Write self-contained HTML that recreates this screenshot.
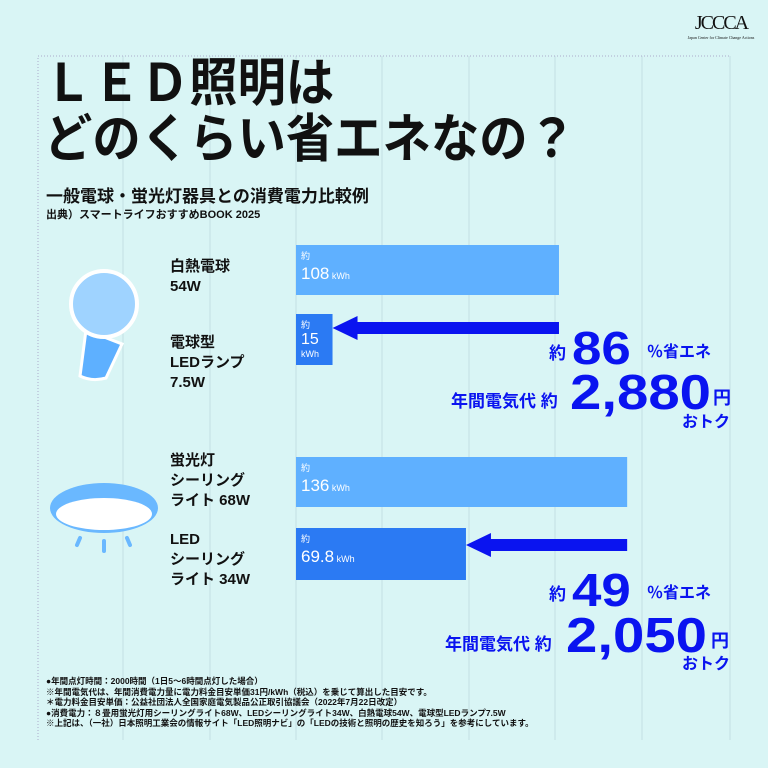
<!DOCTYPE html>
<html><head><meta charset="utf-8">
<style>
body{margin:0;width:768px;height:768px;background:#d9f5f5;font-family:"Liberation Sans","Noto Sans CJK JP",sans-serif;overflow:hidden;position:relative}
.a{position:absolute;white-space:nowrap}
.t{font-weight:bold;color:#111}
.b{color:#0a14f0;font-weight:bold;line-height:1}
.n{transform:scaleX(1.15);transform-origin:left top}
</style></head><body>
<svg class="a" style="left:0;top:0" width="768" height="768">
<g id="grid"></g>
<g id="icons">
<path d="M86 330 L122 344 L106 378 Q92 382 80 376 Z" fill="#5eb0ff" stroke="#fff" stroke-width="3"/>
<circle cx="104" cy="304" r="33" fill="#9fd3ff" stroke="#fff" stroke-width="4"/>
<ellipse cx="104" cy="508" rx="54" ry="25" fill="#6ab8ff"/>
<ellipse cx="104" cy="514" rx="48" ry="16" fill="#fff"/>
<g stroke="#6ab8ff" stroke-width="4" stroke-linecap="round"><line x1="80" y1="538" x2="77" y2="545"/><line x1="104" y1="541" x2="104" y2="551"/><line x1="127" y1="538" x2="130" y2="545"/></g>
</g>
<g id="bars"></g>
</svg>
<div class="a" style="right:12px;top:12px;width:70px;text-align:center;font-size:20px;color:#111;font-family:'Liberation Serif',serif;letter-spacing:-2px">JCCCA<div style="font-size:4px;letter-spacing:0">Japan Center for Climate Change Actions</div></div>
<div class="a t" style="left:44px;top:56px;font-size:52px;line-height:56px;transform:scaleX(0.93);transform-origin:left top">ＬＥＤ照明は<br>どのくらい省エネなの？</div>
<div class="a t" style="left:46px;top:182px;font-size:17px">一般電球・蛍光灯器具との消費電力比較例</div>
<div class="a t" style="left:46px;top:206px;font-size:11px">出典）スマートライフおすすめBOOK 2025</div>
<div class="a t" style="left:170px;top:257px;font-size:15px;line-height:20px">白熱電球<br>54W</div>
<div class="a t" style="left:170px;top:333px;font-size:15px;line-height:20px">電球型<br>LEDランプ<br>7.5W</div>
<div class="a t" style="left:170px;top:451px;font-size:15px;line-height:20px">蛍光灯<br>シーリング<br>ライト 68W</div>
<div class="a t" style="left:170px;top:530px;font-size:15px;line-height:20px">LED<br>シーリング<br>ライト 34W</div>
<div id="labels"></div>

<div class="a b" style="left:549px;top:345px;font-size:17px">約</div>
<div class="a b n" style="left:572px;top:325px;font-size:46px">86</div>
<div class="a b" style="left:647px;top:345px;font-size:16px">％省エネ</div>
<div class="a b" style="left:451px;top:393px;font-size:17px">年間電気代 約</div>
<div class="a b n" style="left:570px;top:369px;font-size:49px">2,880</div>
<div class="a b" style="left:713px;top:389px;font-size:18px">円</div>
<div class="a b" style="left:682px;top:415px;font-size:16px">おトク</div>

<div class="a b" style="left:549px;top:586px;font-size:17px">約</div>
<div class="a b n" style="left:572px;top:567px;font-size:46px">49</div>
<div class="a b" style="left:647px;top:586px;font-size:16px">％省エネ</div>
<div class="a b" style="left:445px;top:636px;font-size:17px">年間電気代 約</div>
<div class="a b n" style="left:566px;top:612px;font-size:49px">2,050</div>
<div class="a b" style="left:711px;top:632px;font-size:18px">円</div>
<div class="a b" style="left:682px;top:657px;font-size:16px">おトク</div>

<div class="a t" style="left:46px;top:676px;font-size:8.5px;line-height:10.5px">●年間点灯時間：2000時間（1日5〜6時間点灯した場合）<br>※年間電気代は、年間消費電力量に電力料金目安単価31円/kWh（税込）を乗じて算出した目安です。<br>＊電力料金目安単価：公益社団法人全国家庭電気製品公正取引協議会（2022年7月22日改定）<br>●消費電力：８畳用蛍光灯用シーリングライト68W、LEDシーリングライト34W、白熱電球54W、電球型LEDランプ7.5W<br>※上記は、（一社）日本照明工業会の情報サイト「LED照明ナビ」の「LEDの技術と照明の歴史を知ろう」を参考にしています。</div>
<script>
const categories=['白熱電球','電球型LEDランプ','蛍光灯シーリングライト','LEDシーリングライト'];
const values=[108,15,136,69.8];
const valueLabels=['108','15','136','69.8'];
const NS='http://www.w3.org/2000/svg';
const x0=296, scale=2.435;
const xs=v=>x0+v*scale;
const rows=[{y:245,h:50,c:'#5fb0ff'},{y:314,h:51,c:'#2b7af3'},{y:457,h:50,c:'#5fb0ff'},{y:528,h:52,c:'#2b7af3'}];
const grid=document.getElementById('grid');
[123,210,296,382,469,555,642,730].forEach(x=>{const l=document.createElementNS(NS,'line');l.setAttribute('x1',x);l.setAttribute('x2',x);l.setAttribute('y1',56);l.setAttribute('y2',740);l.setAttribute('stroke','#c3e0e2');l.setAttribute('stroke-width','1');


grid.appendChild(l);});
const bd=document.createElementNS(NS,'path');bd.setAttribute('d','M38 740 V56 H730');bd.setAttribute('fill','none');bd.setAttribute('stroke','#aac');bd.setAttribute('stroke-dasharray','1 2');


grid.appendChild(bd);
const bars=document.getElementById('bars');const labels=document.getElementById('labels');
values.forEach((v,i)=>{const r=rows[i];const re=document.createElementNS(NS,'rect');re.setAttribute('x',x0);re.setAttribute('y',r.y);re.setAttribute('width',xs(v)-x0);re.setAttribute('height',r.h);re.setAttribute('fill',r.c);


bars.appendChild(re);
const d=document.createElement('div');d.className='a';d.style.cssText='left:301px;top:'+(r.y+6)+'px;color:#fff;font-size:9px;line-height:11px';
d.innerHTML=i==1?'約<br><span style="font-size:16px;line-height:18px">'+valueLabels[i]+'</span><br>kWh':'約<br><span style="font-size:17px;line-height:24px">'+valueLabels[i]+'</span> kWh';


labels.appendChild(d);});
function arrow(from,to,y){const p=document.createElementNS(NS,'path');const a=xs(from),b=xs(to);
p.setAttribute('d',`M${a} ${y-6} H${b+25} V${y-12} L${b} ${y} L${b+25} ${y+12} V${y+6} H${a} Z`);p.setAttribute('fill','#0a14f0');


bars.appendChild(p);}
arrow(values[0],values[1],328);arrow(values[2],values[3],545);
</script>
</body></html>
